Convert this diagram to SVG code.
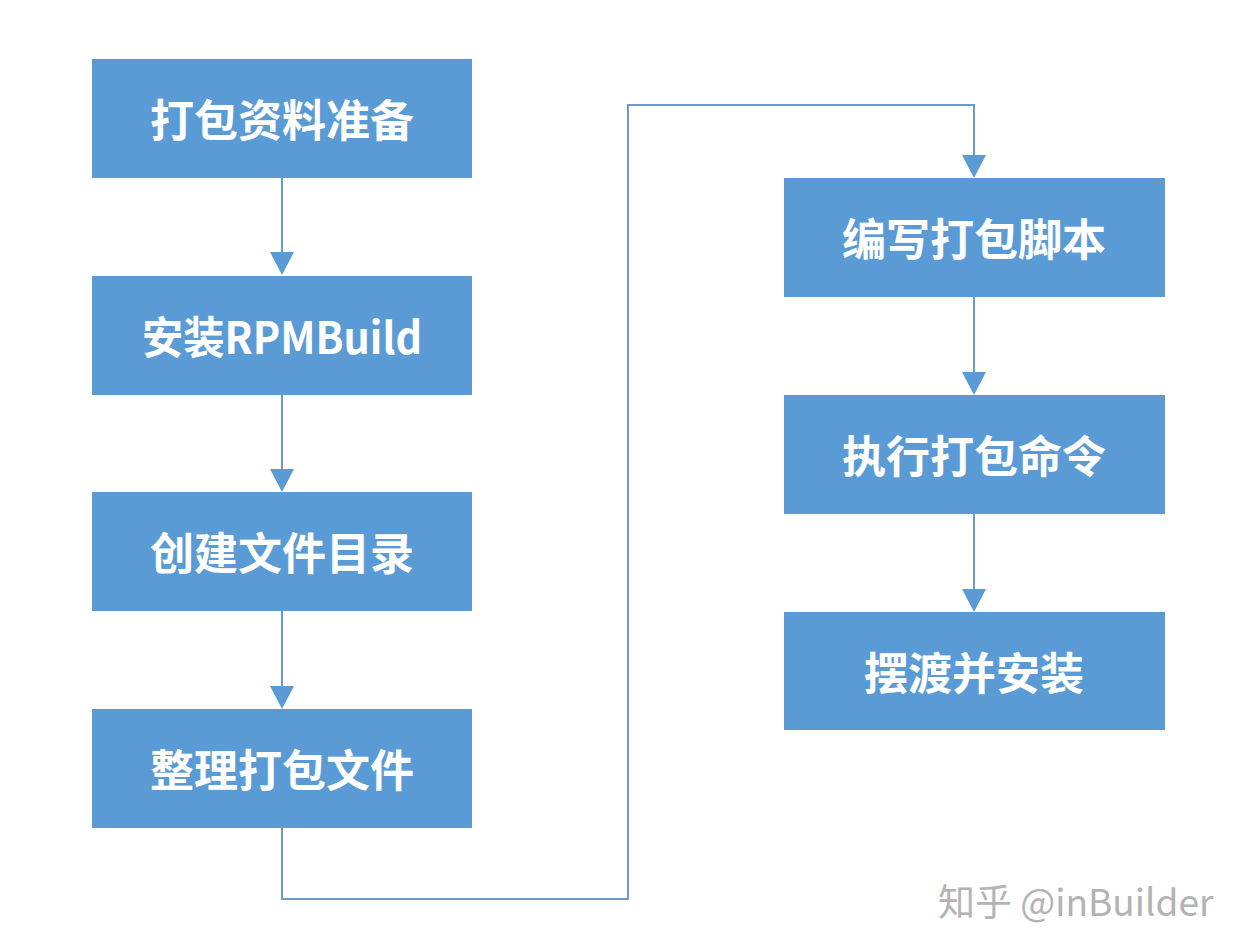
<svg xmlns="http://www.w3.org/2000/svg" width="1250" height="952" viewBox="0 0 1250 952">
<style>
.box{fill:#5b9bd5}
.lbl{fill:#fff;font-family:"Noto Sans CJK SC","Noto Sans",sans-serif;font-weight:bold;font-size:44px;text-anchor:middle;dominant-baseline:central}
.conn{fill:none;stroke:#6a9bc9;stroke-width:2}
.head{fill:#5b9bd5}
.wm{fill:#b3b3b3;font-family:"Noto Sans CJK SC","Noto Sans",sans-serif;font-size:37px}
</style>
<rect width="1250" height="952" fill="#fff"/>
<g id="connectors">
<line class="conn" x1="282" y1="178" x2="282" y2="260"/>
<line class="conn" x1="282" y1="395" x2="282" y2="477"/>
<line class="conn" x1="282" y1="611" x2="282" y2="694"/>
<line class="conn" x1="974" y1="297" x2="974" y2="380"/>
<line class="conn" x1="974" y1="514" x2="974" y2="597"/>
<polyline class="conn" points="282,828 282,899 628,899 628,105 974,105 974,163"/>
<path class="head" d="M270,252 L294,252 L282,275 Z"/>
<path class="head" d="M270,469 L294,469 L282,492 Z"/>
<path class="head" d="M270,686 L294,686 L282,709 Z"/>
<path class="head" d="M962,155 L986,155 L974,178 Z"/>
<path class="head" d="M962,372 L986,372 L974,395 Z"/>
<path class="head" d="M962,589 L986,589 L974,612 Z"/>
</g>
<g id="n1"><rect class="box" x="92" y="59" width="380" height="119"/><text class="lbl" x="282" y="118">打包资料准备</text></g>
<g id="n2"><rect class="box" x="92" y="276" width="380" height="119"/><text class="lbl" x="282" y="335" textLength="280" lengthAdjust="spacingAndGlyphs">安装RPMBuild</text></g>
<g id="n3"><rect class="box" x="92" y="492" width="380" height="119"/><text class="lbl" x="282" y="551">创建文件目录</text></g>
<g id="n4"><rect class="box" x="92" y="709" width="380" height="119"/><text class="lbl" x="282" y="768">整理打包文件</text></g>
<g id="n5"><rect class="box" x="784" y="178" width="381" height="119"/><text class="lbl" x="974" y="237">编写打包脚本</text></g>
<g id="n6"><rect class="box" x="784" y="395" width="381" height="119"/><text class="lbl" x="974" y="454">执行打包命令</text></g>
<g id="n7"><rect class="box" x="784" y="612" width="381" height="118"/><text class="lbl" x="974" y="671">摆渡并安装</text></g>
<text class="wm" x="938" y="916">知乎 @inBuilder</text>
</svg>
